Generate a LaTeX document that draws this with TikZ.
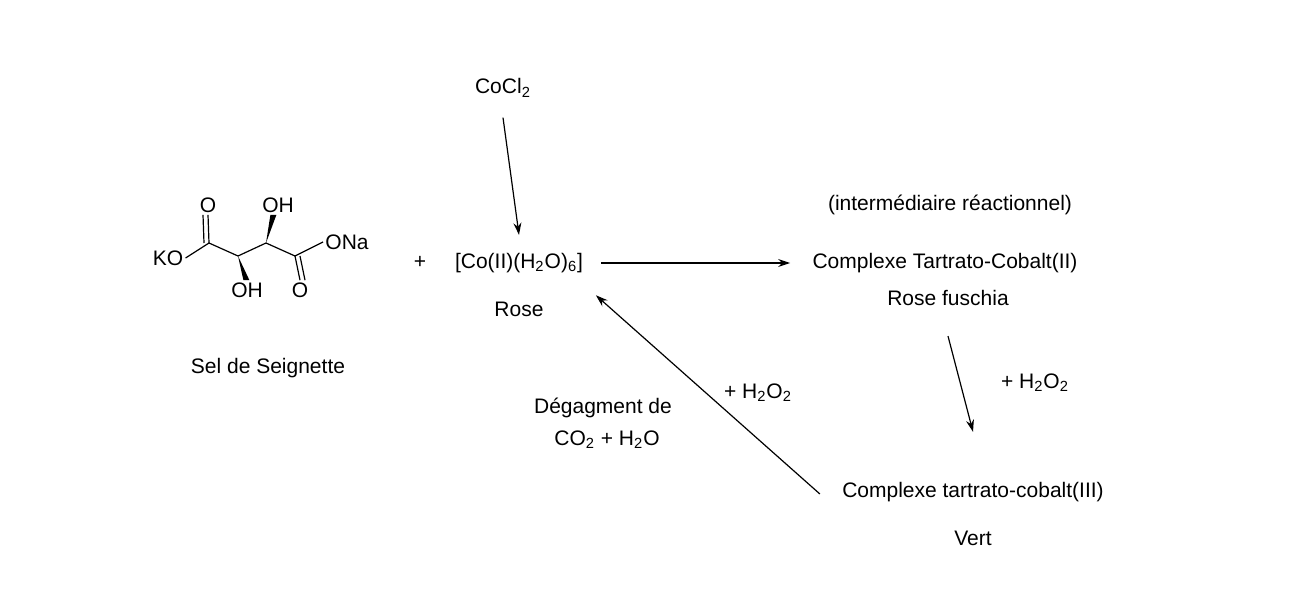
\documentclass[tikz,border=0pt]{standalone}
\usepackage{fontspec}
\setmainfont{Liberation Sans}
\usetikzlibrary{arrows.meta}
\tikzset{
  lbl/.style={font=\fontsize{10.5}{12}\selectfont, inner sep=1pt},
  rxn/.style={-{Stealth[length=6pt,width=4pt]}, line width=0.6pt},
  bond/.style={line width=0.6pt},
}
\newcommand{\sub}[1]{\textsubscript{#1}}
\begin{document}
\begin{tikzpicture}[x=0.5pt,y=-0.5pt]
    \useasboundingbox (0,0) rectangle (1294,594);
    % molecule
    \node[lbl] at (168,258) (ko)  {KO};
    \node[lbl] at (208,205) (o1)  {O};
    \node[lbl] at (278,205) (oh1) {OH};
    \node[lbl] at (247,290) (oh2) {OH};
    \node[lbl] at (300,290) (o2)  {O};
    \node[lbl] at (347,242) (ona) {ONa};
    \coordinate (c1) at (209,243);
    \coordinate (c2) at (238,256);
    \coordinate (c3) at (266,243);
    \coordinate (c4) at (295,256);
    \draw[bond] (ko.east) -- (c1) -- (c2) -- (c3) -- (c4) -- (ona.west);
    \draw[bond] ([xshift=-2.5pt]c1) -- ([xshift=-2.5pt]o1.south);
    \draw[bond] (c1) -- (o1.south);
    \draw[bond] ([xshift=2.5pt]c4) -- ([xshift=2.5pt]o2.north);
    \draw[bond] (c4) -- (o2.north);
    \fill (c2) -- ([xshift=-1.8pt]oh2.north) -- ([xshift=1.2pt]oh2.north) -- cycle;
    \fill (c3) -- ([xshift=-3.8pt]oh1.south) -- ([xshift=-0.8pt]oh1.south) -- cycle;
    \node[lbl] at (268,368) (sel) {Sel de Seignette};
    % cobalt
    \node[lbl] at (503,88)  (cocl) {CoCl\sub{2}};
    \node[lbl] at (420,262) (plus) {+};
    \node[lbl] at (519,263) (cohex) {[Co(II)(H\sub{2}O)\sub{6}]};
    \node[lbl] at (519,309) (rose) {Rose};
    \node[lbl] at (950,205) (inter) {(intermédiaire réactionnel)};
    \node[lbl] at (945,263) (cplxa) {Complexe Tartrato-Cobalt(II)};
    \node[lbl] at (948,298) (fusch) {Rose fuschia};
    \node[lbl] at (1035,383) (hpa) {+ H\sub{2}O\sub{2}};
    \node[lbl] at (973,492) (cplxb) {Complexe tartrato-cobalt(III)};
    \node[lbl] at (973,538) (vert) {Vert};
    \node[lbl] at (758,393) (hpb) {+ H\sub{2}O\sub{2}};
    \node[lbl] at (603,408) (deg) {Dégagment de};
    \node[lbl] at (607,440) (co2) {CO\sub{2} + H\sub{2}O};
    % arrows
    \draw[rxn] ([yshift=-9pt]cocl.south) -- ([yshift=8pt]cohex.north);
    \draw[rxn] ([xshift=8pt]cohex.east) -- ([xshift=-10pt]cplxa.west);
    \draw[rxn] ([yshift=-14pt]fusch.south) -- ([yshift=24pt]cplxb.north);
    \draw[rxn] ([xshift=-10pt,yshift=-1pt]cplxb.west) -- ([xshift=25pt,yshift=2pt]rose.north east);
\end{tikzpicture}
\end{document}
